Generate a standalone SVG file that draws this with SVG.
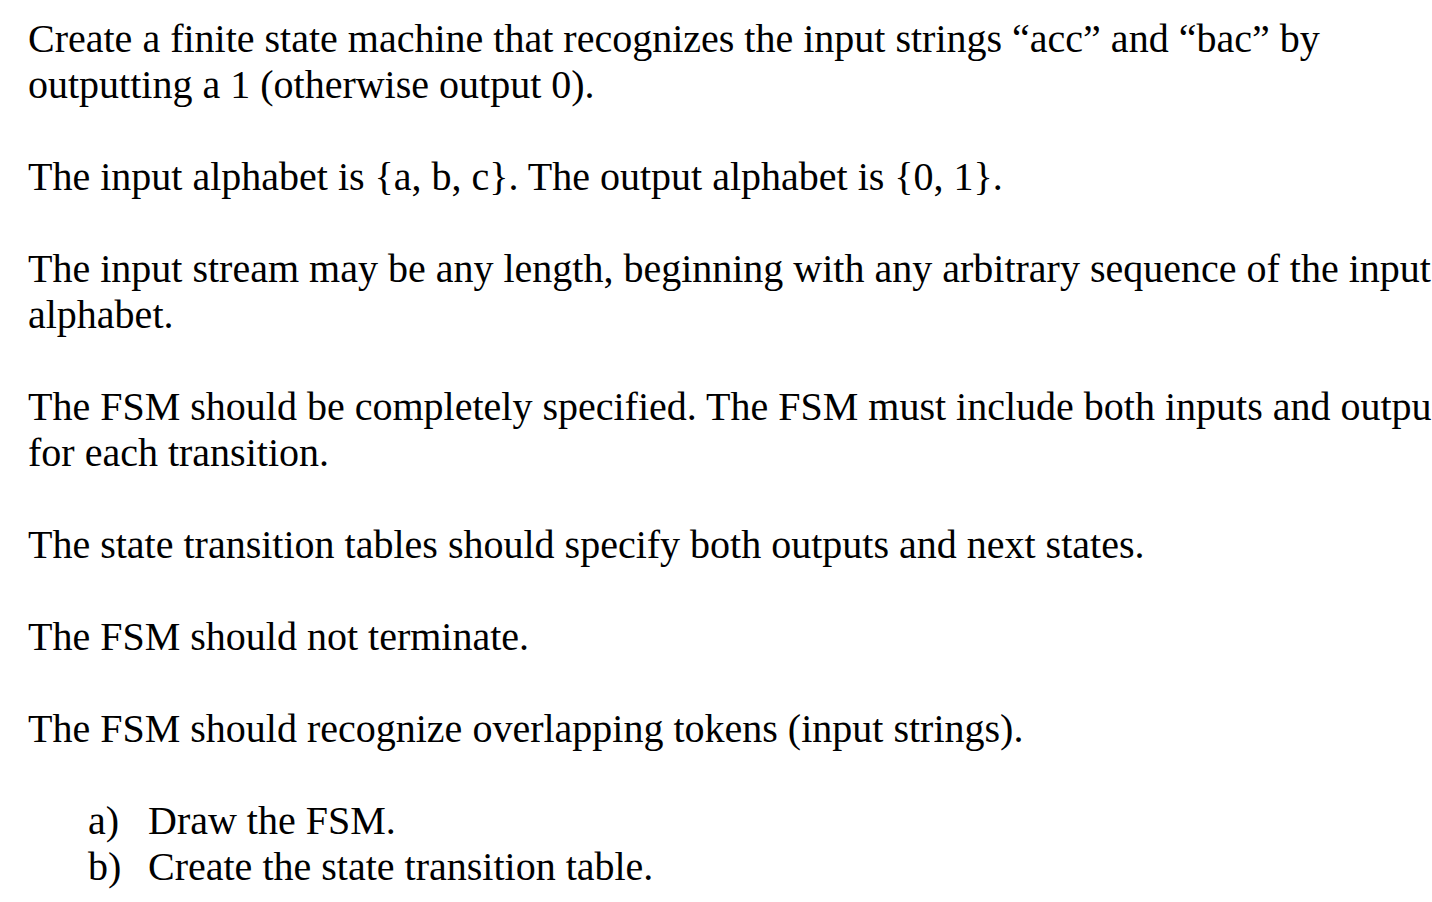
<svg xmlns="http://www.w3.org/2000/svg" width="1432" height="902" viewBox="0 0 1432 902">
<style>text{font-family:"Liberation Serif","Times New Roman",serif;font-size:40px;fill:#000}</style>
<rect width="1432" height="902" fill="#fff"/>
<text x="28" y="52">Create a finite state machine that recognizes the input strings “acc” and “bac” by</text>
<text x="28" y="98">outputting a 1 (otherwise output 0).</text>
<text x="28" y="190">The input alphabet is {a, b, c}. The output alphabet is {0, 1}.</text>
<text x="28" y="282">The input stream may be any length, beginning with any arbitrary sequence of the input</text>
<text x="28" y="328">alphabet.</text>
<text x="28" y="420">The FSM should be completely specified. The FSM must include both inputs and outpu</text>
<text x="28" y="466">for each transition.</text>
<text x="28" y="558">The state transition tables should specify both outputs and next states.</text>
<text x="28" y="650">The FSM should not terminate.</text>
<text x="28" y="742">The FSM should recognize overlapping tokens (input strings).</text>
<text x="88" y="834">a)</text><text x="148" y="834">Draw the FSM.</text>
<text x="88" y="880">b)</text><text x="148" y="880">Create the state transition table.</text>
</svg>
